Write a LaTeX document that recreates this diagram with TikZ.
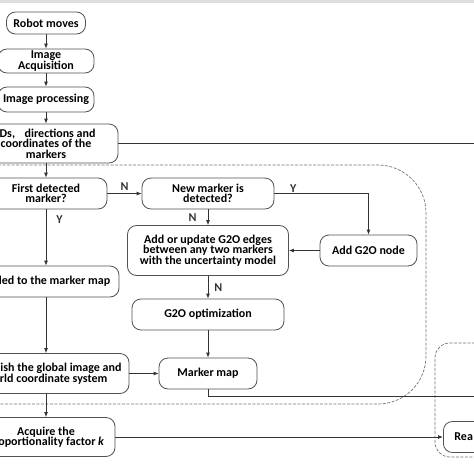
\documentclass[tikz,border=0pt]{standalone}
\usepackage{fontspec}
\setmainfont{Carlito}
\usetikzlibrary{arrows.meta,positioning}
\definecolor{linegray}{rgb}{0.2,0.2,0.2}
\definecolor{boxgray}{rgb}{0.32,0.32,0.32}
\definecolor{dashgray}{rgb}{0.45,0.45,0.45}
\definecolor{topband}{rgb}{0.87,0.87,0.87}
\tikzset{
  rbox/.style={
    rounded corners=9pt,
    draw=boxgray,
    fill=white,
    align=center,
    inner sep=1pt,
    line width=0.8pt,
    font=\fontsize{12}{10.5}\selectfont\bfseries
  },
  arrow/.style={
    -{Latex[length=5pt,width=4pt]},
    line width=0.8pt,
    linegray
  },
  conn/.style={
    line width=0.9pt,
    linegray
  },
  lbl/.style={
    inner sep=1pt,
    font=\fontsize{12}{12}\selectfont\bfseries
  },
  zone/.style={
    dashgray,
    dash pattern=on 3pt off 1.5pt,
    line width=0.7pt
  }
}

\begin{document}
\begin{tikzpicture}[x=1pt,y=-1pt]
\useasboundingbox (0,0) rectangle (474,474);
\clip (0,0) rectangle (474,474);
\fill[topband] (0,0) rectangle (474,2.5);
% dashed zones
\draw[zone,rounded corners=48] (-20,165) -- (426,165) -- (426,404) -- (-20,404);
\draw[zone,rounded corners=15] (520,343) -- (435,343) -- (435,457) -- (520,457);
% left column
\node[rbox,minimum width=79,minimum height=22] (robot) at (46,23) {Robot moves};
\node[rbox,minimum width=96,minimum height=24] (acq) at (46,61) {Image\\Acquisition};
\node[rbox,minimum width=96,minimum height=25] (proc) at (46,99.5) {Image processing};
\node[rbox,minimum width=144,minimum height=39] (ids) at (46,143.5) {IDs,\hspace{0.8em}directions and\\coordinates of the\\markers};
\node[rbox,minimum width=122,minimum height=31] (first) at (46,193.5) {First detected\\marker?};
\node[rbox,minimum width=146,minimum height=31] (added) at (46,281.5) {Added to the marker map};
\node[rbox,minimum width=166,minimum height=40] (estab) at (46,373.5) {Establish the global image and\\world coordinate system};
\node[rbox,minimum width=138,minimum height=39] (acqk) at (46,437) {Acquire the\\proportionality factor \textit{k}};
% middle and right
\node[rbox,minimum width=132,minimum height=31] (newm) at (208,193.5) {New marker is\\detected?};
\node[rbox,minimum width=161,minimum height=50] (upd) at (208,250.5) {Add or update G2O edges\\between any two markers\\with the uncertainty model};
\node[rbox,minimum width=97,minimum height=31] (addn) at (368.5,250.5) {Add G2O node};
\node[rbox,minimum width=152,minimum height=31] (opt) at (208,314.5) {G2O optimization};
\node[rbox,minimum width=98,minimum height=31] (mmap) at (208,373.5) {Marker map};
\node[rbox,anchor=west,minimum height=31,text width=80,align=left,inner xsep=11pt] (real) at (443,437) {Rea};
\coordinate (rim) at (480,144);
\coordinate (mout) at (480,396);
% connectors
\draw[arrow] (robot) -- (acq);
\draw[arrow] (acq) -- (proc);
\draw[arrow] (proc) -- (ids);
\draw[arrow] (ids) -- (first);
\draw[conn] (ids) -- (ids -| rim);
\draw[arrow] (first) -- node[lbl,above=2pt]{N} (newm);
\draw[arrow] (newm.east) -- node[lbl,above,pos=0.2]{Y} (newm.east -| addn.north) -- (addn.north);
\draw[arrow] (newm) -- node[lbl,left=10pt]{N} (upd);
\draw[arrow] (addn) -- (upd);
\draw[arrow] (upd) -- node[lbl,right=5pt]{N} (opt);
\draw[arrow] (opt) -- (mmap);
\draw[arrow] (first) -- node[lbl,right=9pt,pos=0.18]{Y} (added);
\draw[arrow] (added) -- (estab);
\draw[arrow] (estab) -- (mmap);
\draw[arrow] (estab) -- (acqk);
\draw[conn] (mmap) |- (mout);
\draw[arrow] (acqk) -- (real);
\end{tikzpicture}
\end{document}
